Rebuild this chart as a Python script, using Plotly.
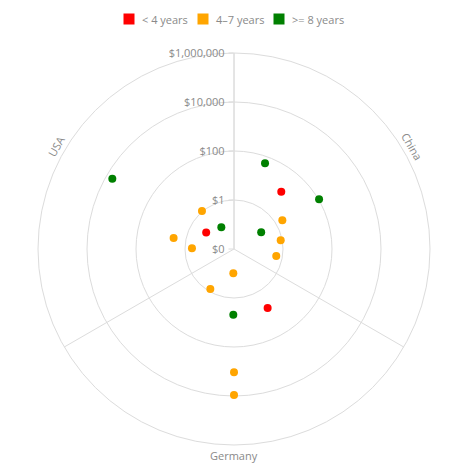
import math

import plotly.graph_objects as go

# angular sectors (centre angle of each country, degrees clockwise from top)
countries = ['China', 'Germany', 'USA']
country_angles = [60, 180, 300]

groups = ['< 4 years', '4–7 years', '>= 8 years']
colors = ['#ff0000', '#ffa500', '#008000']

# points per group: angle (deg) and value ($)
theta_lt4 = [300.8, 39.5, 150.3]
value_lt4 = [0.21, 10.8, 5.9]

theta_4to7 = [319.9, 280.3, 271.0, 59.3, 79.4, 99.4, 181.6, 210.6, 180.0, 180.0]
value_4to7 = [1.07, 3.2, 0.52, 1.97, 0.87, 0.56, 0.098, 0.79, 1070, 9120]

theta_ge8 = [300.0, 329.7, 19.9, 59.7, 58.5, 180.6]
value_ge8 = [5430, 0.106, 52.4, 105, 0.2, 4.8]

series = [(theta_lt4, value_lt4), (theta_4to7, value_4to7), (theta_ge8, value_ge8)]

W, H = 474, 474
off = 8  # page margin around the plot div
cx, cy, R = 234 - off, 249 - off, 196
grid = '#dcdcdc'
text_col = '#8a8a8a'
font = 'Open Sans'

fig = go.Figure()

for (th, val), name, col in zip(series, groups, colors):
    fig.add_trace(go.Scatterpolar(theta=th, r=val, mode='markers', name=name,
                                  marker=dict(color=col, size=8), showlegend=False))

annotations = []

# compact legend row at the top: coloured square + label
legend_x = [115, 189, 265]
for x0, name, col in zip(legend_x, groups, colors):
    annotations.append(dict(x=(x0 + 5.5) / W, y=1 - 11 / H, xref='paper', yref='paper',
                            xanchor='center', yanchor='middle',
                            text=' ', showarrow=False, bgcolor=col, width=10, height=10,
                            borderpad=0, font=dict(size=1)))
    annotations.append(dict(x=(x0 + 17) / W, y=1 - 11 / H, xref='paper', yref='paper',
                            xanchor='left', yanchor='middle', text=name, showarrow=False,
                            font=dict(size=11, color=text_col, family=font)))

# rotated sector labels just outside the outer circle
for name, ang in zip(countries, country_angles):
    rad = math.radians(ang)
    px_ = cx + 206 * math.sin(rad)
    py_ = cy - 206 * math.cos(rad)
    tilt = ang if ang <= 90 else (ang - 360 if ang >= 270 else 0)
    annotations.append(dict(x=px_ / W, y=1 - py_ / H, xref='paper', yref='paper',
                            xanchor='center', yanchor='middle',
                            text=name, showarrow=False, textangle=tilt,
                            font=dict(size=11, color=text_col, family=font)))

fig.update_layout(
    width=W, height=H,
    margin=dict(l=0, r=0, t=0, b=0),
    paper_bgcolor='white',
    showlegend=False,
    font=dict(family=font, color=text_col, size=11),
    annotations=annotations,
    polar=dict(
        domain=dict(x=[(cx - R) / W, (cx + R) / W], y=[1 - (cy + R) / H, 1 - (cy - R) / H]),
        bgcolor='white',
        angularaxis=dict(rotation=90, direction='clockwise', tickmode='array',
                         tickvals=[0, 120, 240], showticklabels=False, ticks='',
                         showgrid=True, gridcolor=grid, showline=True, linecolor=grid),
        radialaxis=dict(type='log', range=[-2, 6], dtick=2, tickprefix='$', tickformat=',.0f',
                        angle=90, side='counterclockwise', tickangle=90,
                        ticks='outside', ticklen=5, tickcolor=grid,
                        showline=True, linecolor=grid, gridcolor=grid,
                        tickfont=dict(size=11, color=text_col)),
    ),
)

fig.write_html("out.html")
